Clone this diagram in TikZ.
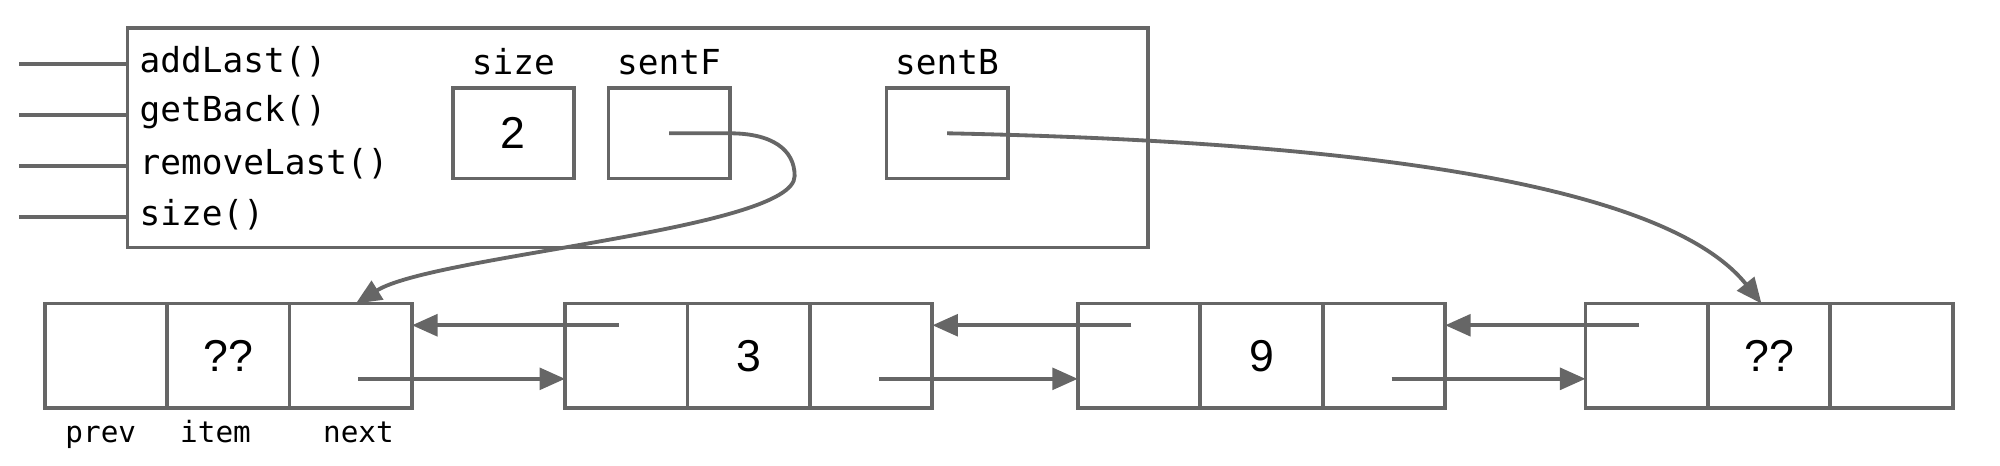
\documentclass[tikz,border=0pt]{standalone}
\usepackage{fontspec}
\setmainfont{Liberation Sans}
\setmonofont{DejaVu Sans Mono}
\usetikzlibrary{positioning,arrows.meta}
\definecolor{lgray}{RGB}{102,102,102}

\begin{document}
\begin{tikzpicture}[x=0.5pt,y=0.5pt,line width=1.5pt,
  cell/.style={draw=lgray,minimum width=48pt,minimum height=41pt,inner sep=0pt,outer sep=0pt,font=\fontsize{17.5}{20}\selectfont},
  field/.style={draw=lgray,minimum width=47.5pt,minimum height=35.5pt,inner sep=0pt,outer sep=0pt,font=\fontsize{17.5}{20}\selectfont},
  code/.style={font=\ttfamily\fontsize{13.5}{15}\selectfont,inner sep=0pt},
  tag/.style={font=\ttfamily\fontsize{11.5}{13}\selectfont,inner sep=0pt},
  link/.style={draw=lgray,-{Triangle[length=10pt,width=8.5pt]}}]
  \useasboundingbox (0,0) rectangle (1568,365);
  \node[draw=lgray,minimum width=400pt,minimum height=86pt,outer sep=0pt] (deque) at (500,257) {};
  \foreach \m/\t/\y in {1/addLast()/315,2/getBack()/275,3/removeLast()/235,4/size()/195}{
    \coordinate (m\m) at (15,\y);
    \draw[lgray] (m\m) -- (m\m -| deque.west);
    \node[code,anchor=west] (t\m) at (108,\y+2) {\t};
  }
  \node[field] (sz) at (402.5,260.5) {2};
  \node[field] (sF) at (524.5,260.5) {};
  \node[field] (sB) at (742.5,260.5) {};
  \node[code,above=4.5pt of sz] (lsz) {size};
  \node[code,above=4.5pt of sF] (lsF) {sentF};
  \node[code,above=4.5pt of sB] (lsB) {sentB};
  \foreach \k/\x/\v in {1/83/??,2/491/3,3/893/9,4/1291/??}{
    \node[cell] (p\k) at (\x,86) {};
    \node[cell,right=0pt of p\k] (i\k) {\v};
    \node[cell,right=0pt of i\k] (n\k) {};
  }
  \foreach \a/\b in {1/2,2/3,3/4}{
    \draw[link] ([xshift=-3pt,yshift=12pt]p\b.center) -- ([yshift=12pt]n\a.east);
    \draw[link] ([xshift=3pt,yshift=-9pt]n\a.center) -- ([yshift=-9pt]p\b.west);
  }
  \node[tag,anchor=base] (lp) at ([xshift=-2pt,yshift=-13.5pt]p1.south) {prev};
  \node[tag,anchor=base] (li) at ([xshift=-5pt,yshift=-13.5pt]i1.south) {item};
  \node[tag,anchor=base] (ln) at ([xshift=3pt,yshift=-13.5pt]n1.south) {next};
  \coordinate (bendF) at (623,227);
  \draw[link] (sF.center) -- (sF.east) .. controls (605,260.5) and (623,248) .. (bendF)
    .. controls (623,185) and (340,165) .. ([xshift=2pt]n1.north);
  \draw[link] (sB.center) .. controls (1059,254) and (1305,222) .. ([xshift=-3pt]i4.north);
\end{tikzpicture}
\end{document}
